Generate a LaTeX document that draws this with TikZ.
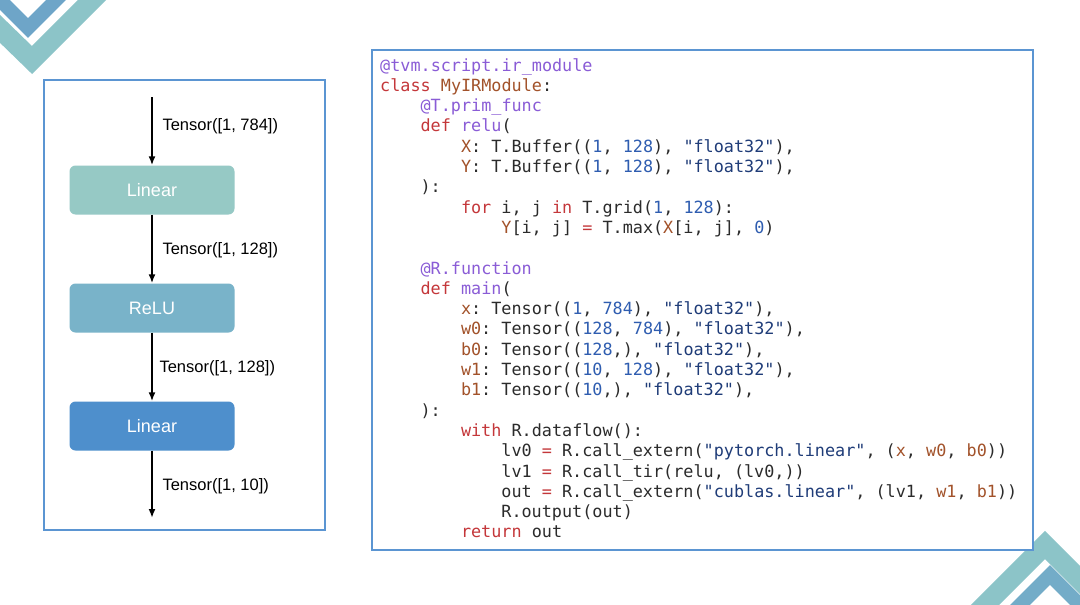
\documentclass[tikz,border=0pt]{standalone}
\usepackage{fontspec}
\usetikzlibrary{arrows.meta}
\setmainfont{Liberation Sans}
\setmonofont{DejaVu Sans Mono}
\begin{document}
\definecolor{frame}{HTML}{5B95D2}
\definecolor{kw}{HTML}{C4373A}
\definecolor{dec}{HTML}{8A5CD6}
\definecolor{vr}{HTML}{A2522A}
\definecolor{nm}{HTML}{2F5DB0}
\definecolor{st}{HTML}{1F3C78}
\definecolor{tx}{HTML}{2B2B2B}
\newcommand{\kw}[1]{\textcolor{kw}{#1}}
\newcommand{\dc}[1]{\textcolor{dec}{#1}}
\newcommand{\vr}[1]{\textcolor{vr}{#1}}
\newcommand{\nm}[1]{\textcolor{nm}{#1}}
\newcommand{\st}[1]{\textcolor{st}{#1}}
\begin{tikzpicture}[x=1pt,y=-1pt,
  box/.style={draw=frame,line width=2pt,fill=white},
  op/.style={rounded corners=6pt,minimum width=165pt,minimum height=49pt,text=white,font=\fontsize{18}{20}\selectfont,inner sep=0pt},
  lbl/.style={anchor=west,font=\fontsize{16.5}{18}\selectfont,text=black},
  flow/.style={-{Latex[length=9pt,width=7pt]},line width=2pt},
  code/.style={anchor=base west,inner sep=0pt,font=\ttfamily\fontsize{16.8}{18}\selectfont,text=tx}]
\useasboundingbox (0,0) rectangle (1080,605);
% decorations
\draw[line width=20pt,color={rgb,255:red,140;green,196;blue,200}] (-40,-10) -- (32,60) -- (105,-13);
\draw[line width=14pt,color={rgb,255:red,110;green,165;blue,200}] (-40,-40) -- (28,28) -- (96,-40);
\draw[line width=20pt,color={rgb,255:red,140;green,196;blue,200}] (975,615) -- (1045,545) -- (1115,615);
\draw[line width=14pt,color={rgb,255:red,115;green,172;blue,200}] (985,640) -- (1050,575) -- (1115,640);
% left panel
\draw[box] (44,80) rectangle (325,530);
\node[op,fill={rgb,255:red,150;green,201;blue,197}] (l1) at (152,190) {Linear};
\node[op,fill={rgb,255:red,121;green,179;blue,201}] (r) at (152,308) {ReLU};
\node[op,fill={rgb,255:red,78;green,143;blue,204}] (l2) at (152,426) {Linear};
\coordinate (in) at (152,97);
\coordinate (out) at (152,518);
\draw[flow] (in) -- (l1.north);
\draw[flow] (l1.south) -- (r.north);
\draw[flow] (r.south) -- (l2.north);
\draw[flow] (l2.south) -- (out);
\node[lbl] (t1) at (159,126) {Tensor([1, 784])};
\node[lbl] (t2) at (159,250) {Tensor([1, 128])};
\node[lbl] (t3) at (156,368) {Tensor([1, 128])};
\node[lbl] (t4) at (159,486) {Tensor([1, 10])};
% code panel
\draw[box] (372,50) rectangle (1033,550);
\def\lh{20.3}
\def\cw{10.1}
\def\ystart{71}
\node[code] (c1) at (380,\ystart) {\dc{@tvm.script.ir\_module}};
\node[code] (c2) at (380,\ystart+\lh) {\kw{class} \vr{MyIRModule}:};
\node[code] (c3) at (380+4*\cw,\ystart+2*\lh) {\dc{@T.prim\_func}};
\node[code] (c4) at (380+4*\cw,\ystart+3*\lh) {\kw{def} \dc{relu}(};
\node[code] (c5) at (380+8*\cw,\ystart+4*\lh) {\vr{X}: T.Buffer((\nm{1}, \nm{128}), \st{"float32"}),};
\node[code] (c6) at (380+8*\cw,\ystart+5*\lh) {\vr{Y}: T.Buffer((\nm{1}, \nm{128}), \st{"float32"}),};
\node[code] (c7) at (380+4*\cw,\ystart+6*\lh) {):};
\node[code] (c8) at (380+8*\cw,\ystart+7*\lh) {\kw{for} i, j \kw{in} T.grid(\nm{1}, \nm{128}):};
\node[code] (c9) at (380+12*\cw,\ystart+8*\lh) {\vr{Y}[i, j] \kw{=} T.max(\vr{X}[i, j], \nm{0})};
\node[code] (c11) at (380+4*\cw,\ystart+10*\lh) {\dc{@R.function}};
\node[code] (c12) at (380+4*\cw,\ystart+11*\lh) {\kw{def} \dc{main}(};
\node[code] (c13) at (380+8*\cw,\ystart+12*\lh) {\vr{x}: Tensor((\nm{1}, \nm{784}), \st{"float32"}),};
\node[code] (c14) at (380+8*\cw,\ystart+13*\lh) {\vr{w0}: Tensor((\nm{128}, \nm{784}), \st{"float32"}),};
\node[code] (c15) at (380+8*\cw,\ystart+14*\lh) {\vr{b0}: Tensor((\nm{128},), \st{"float32"}),};
\node[code] (c16) at (380+8*\cw,\ystart+15*\lh) {\vr{w1}: Tensor((\nm{10}, \nm{128}), \st{"float32"}),};
\node[code] (c17) at (380+8*\cw,\ystart+16*\lh) {\vr{b1}: Tensor((\nm{10},), \st{"float32"}),};
\node[code] (c18) at (380+4*\cw,\ystart+17*\lh) {):};
\node[code] (c19) at (380+8*\cw,\ystart+18*\lh) {\kw{with} R.dataflow():};
\node[code] (c20) at (380+12*\cw,\ystart+19*\lh) {lv0 \kw{=} R.call\_extern(\st{"pytorch.linear"}, (\vr{x}, \vr{w0}, \vr{b0}))};
\node[code] (c21) at (380+12*\cw,\ystart+20*\lh) {lv1 \kw{=} R.call\_tir(relu, (lv0,))};
\node[code] (c22) at (380+12*\cw,\ystart+21*\lh) {out \kw{=} R.call\_extern(\st{"cublas.linear"}, (lv1, \vr{w1}, \vr{b1}))};
\node[code] (c23) at (380+12*\cw,\ystart+22*\lh) {R.output(out)};
\node[code] (c24) at (380+8*\cw,\ystart+23*\lh) {\kw{return} out};
\end{tikzpicture}
\end{document}
